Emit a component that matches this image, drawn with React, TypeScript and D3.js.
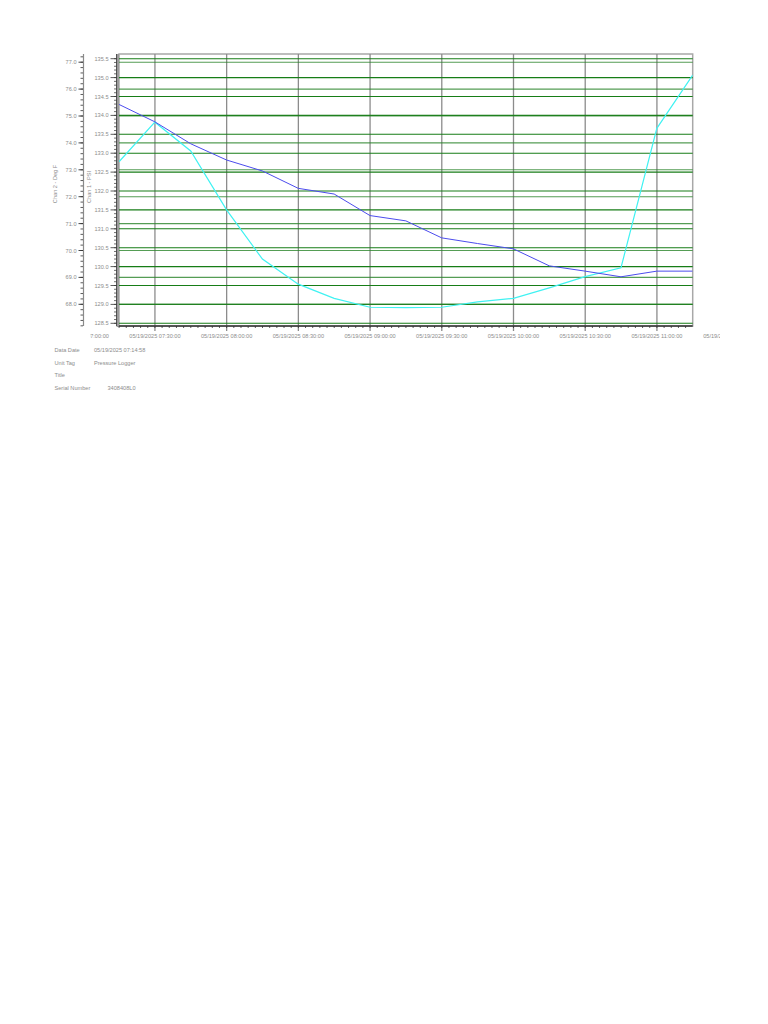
import React from "react";
import * as d3 from "d3";

// ---- data ----
const startTime = new Date(2025, 4, 19, 7, 14, 58);
const endTime = new Date(2025, 4, 19, 11, 14, 58);
const sampleMinutes = [0, 15, 30, 45, 60, 75, 90, 105, 120, 135, 150, 165, 180, 195, 210, 225, 240];
const chan1Psi = [134.29, 133.83, 133.25, 132.82, 132.53, 132.07, 131.92, 131.35, 131.21, 130.76, 130.61, 130.47, 130.02, 129.88, 129.73, 129.88, 129.88];
const chan2DegF = [73.3, 74.77, 73.7, 71.51, 69.68, 68.75, 68.22, 67.89, 67.88, 67.89, 68.09, 68.22, 68.61, 69.03, 69.36, 74.54, 76.52];
const psiTicks = [128.5, 129, 129.5, 130, 130.5, 131, 131.5, 132, 132.5, 133, 133.5, 134, 134.5, 135, 135.5];
const degTicks = [68, 69, 70, 71, 72, 73, 74, 75, 76, 77];
const infoLabels = ["Data Date", "Unit Tag", "Title", "Serial Number"];
const infoValues = ["05/19/2025 07:14:58", "Pressure Logger", "", "3408408L0"];

const fmt = d3.timeFormat("%m/%d/%Y %H:%M:%S");

export default function App() {
  const left = 119, right = 692.7, top = 54, bottom = 326;
  const x = d3.scaleTime().domain([startTime, endTime]).range([left, right]);
  const yR = d3.scaleLinear().domain([128.5, 135.5]).range([323.3, 58.7]);
  const yL = d3.scaleLinear().domain([68, 77]).range([304.3, 62.2]);
  const t = (m: number) => new Date(startTime.getTime() + m * 60000);

  const majorTimes = d3.timeMinute.every(30)!.range(new Date(2025, 4, 19, 7, 0), new Date(2025, 4, 19, 11, 31));
  const minorTimes = d3.timeMinute.every(3)!.range(startTime, endTime);

  const lineBlue = d3.line<number>().x((_, i) => x(t(sampleMinutes[i]))).y((d) => yR(d));
  const lineCyan = d3.line<number>().x((_, i) => x(t(sampleMinutes[i]))).y((d) => yL(d));

  const psiMinor = d3.range(0, 72).map((i) => 128.4 + i * 0.1).filter((v) => yR(v) >= top && yR(v) <= bottom);
  const degMinor = d3.range(0, 52).map((i) => 67.2 + i * 0.2).filter((v) => yL(v) >= top && yL(v) <= bottom);

  const txt = { fontFamily: "Liberation Sans, Arial, sans-serif", fontSize: 5.6, fill: "#8c8c8c" } as const;

  return (
    <svg width={760} height={1000} style={{ display: "block", margin: 0 }} viewBox="0 0 760 1000">
      <defs>
        <clipPath id="xlab">
          <rect x={90} y={328} width={630} height={20} />
        </clipPath>
        <clipPath id="plot">
          <rect x={left} y={top} width={right - left} height={bottom - top} />
        </clipPath>
      </defs>
      <g transform="translate(-8,-8)">
        {/* plot background */}
        <rect x={left} y={top} width={right - left} height={bottom - top} fill="#fff" stroke="#a8a8a8" strokeWidth={1.5} />
        {/* vertical grid */}
        {majorTimes.filter((d) => x(d) > left + 2 && x(d) < right - 2).map((d, i) => (
          <line key={"vg" + i} x1={x(d)} x2={x(d)} y1={top} y2={bottom + 5} stroke="#8c8c8c" strokeWidth={1.3} />
        ))}
        {/* horizontal green grid */}
        {psiTicks.map((v, i) => (
          <line key={"gp" + i} x1={left} x2={right} y1={yR(v)} y2={yR(v)} stroke="#177d17" strokeWidth={1.1} />
        ))}
        {degTicks.map((v, i) => (
          <line key={"gd" + i} x1={left} x2={right} y1={yL(v)} y2={yL(v)} stroke="#2a842a" strokeWidth={1.1} strokeOpacity={0.8} />
        ))}
        {/* series */}
        <g clipPath="url(#plot)">
          <path d={lineCyan(chan2DegF)!} fill="none" stroke="#40f2f2" strokeWidth={1.2} />
          <path d={lineBlue(chan1Psi)!} fill="none" stroke="#4c4ced" strokeWidth={1} />
        </g>
        {/* left band */}
        <rect x={116.5} y={top} width={2.5} height={bottom - top + 1} fill="#9a9a9a" />
        {/* bottom axis */}
        <line x1={left} x2={right} y1={bottom} y2={bottom} stroke="#333" strokeWidth={1.3} />
        {minorTimes.map((d, i) => (
          <line key={"mt" + i} x1={x(d)} x2={x(d)} y1={bottom} y2={bottom + 2} stroke="#333" strokeWidth={0.8} />
        ))}
        <g clipPath="url(#xlab)">
          {majorTimes.map((d, i) => (
            <text key={"xl" + i} x={x(d)} y={337.5} textAnchor="middle" {...txt}>{fmt(d)}</text>
          ))}
        </g>
        {/* PSI axis */}
        <line x1={116.5} x2={116.5} y1={top} y2={bottom} stroke="#333" strokeWidth={0.8} />
        {psiMinor.map((v, i) => (
          <line key={"pm" + i} x1={114} x2={116.5} y1={yR(v)} y2={yR(v)} stroke="#333" strokeWidth={0.7} />
        ))}
        {psiTicks.map((v, i) => (
          <g key={"pt" + i}>
            <line x1={110.5} x2={116.5} y1={yR(v)} y2={yR(v)} stroke="#333" strokeWidth={0.8} />
            <text x={108.5} y={yR(v) + 2} textAnchor="end" {...txt}>{v.toFixed(1)}</text>
          </g>
        ))}
        {/* Deg F axis */}
        <line x1={83.5} x2={83.5} y1={top} y2={bottom} stroke="#8a8a8a" strokeWidth={1.2} />
        {degMinor.map((v, i) => (
          <line key={"dm" + i} x1={80.5} x2={83} y1={yL(v)} y2={yL(v)} stroke="#333" strokeWidth={0.8} />
        ))}
        {degTicks.map((v, i) => (
          <g key={"dt" + i}>
            <line x1={78.5} x2={83} y1={yL(v)} y2={yL(v)} stroke="#333" strokeWidth={0.9} />
            <text x={76.5} y={yL(v) + 2} textAnchor="end" {...txt}>{v.toFixed(1)}</text>
          </g>
        ))}
        {/* axis titles */}
        <text transform="translate(57,184) rotate(-90)" textAnchor="middle" {...txt}>Chan 2 - Deg F</text>
        <text transform="translate(91,187) rotate(-90)" textAnchor="middle" {...txt}>Chan 1 - PSI</text>
        {/* info */}
        {infoLabels.map((l, i) => (
          <g key={"in" + i}>
            <text x={54.5} y={352 + i * 12.7} {...txt}>{l}</text>
            <text x={i === 3 ? 107.5 : 94} y={352 + i * 12.7} {...txt}>{infoValues[i]}</text>
          </g>
        ))}
      </g>
    </svg>
  );
}
